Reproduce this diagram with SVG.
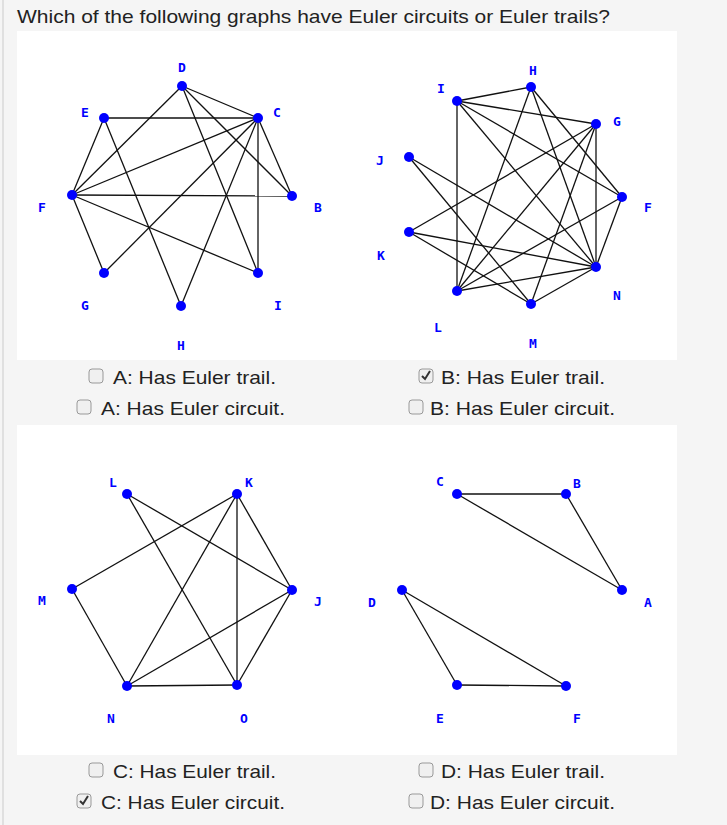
<svg xmlns="http://www.w3.org/2000/svg" width="727" height="825" viewBox="0 0 727 825">
<style>
.e line{stroke:#111;stroke-width:1.3}
.n circle{fill:#0000ff}
.l{font-family:"DejaVu Sans Mono",monospace;font-weight:bold;font-size:13px;fill:#0000ff;text-anchor:middle}
.t{font-family:"Liberation Sans",Arial,sans-serif;font-size:19px;fill:#222}
.cb{fill:#f0f0f0;stroke:#999;stroke-width:1}
.ck{fill:none;stroke:#333;stroke-width:2}
</style>
<rect width="727" height="825" fill="#f5f5f5"/>
<line x1="3" y1="0" x2="3" y2="825" stroke="#e0e0e0" stroke-width="2"/>
<rect x="17" y="31" width="660" height="329" fill="#fff"/>
<rect x="17" y="425" width="660" height="330" fill="#fff"/>
<text x="17" y="23" class="t" font-size="20.5" textLength="593" lengthAdjust="spacingAndGlyphs">Which of the following graphs have Euler circuits or Euler trails?</text>

<g id="connectors" class="e">
<line x1="182" y1="86" x2="258" y2="118"/><line x1="182" y1="86" x2="72" y2="195"/><line x1="182" y1="86" x2="292" y2="196"/><line x1="182" y1="86" x2="258" y2="273"/>
<line x1="104" y1="118" x2="258" y2="118"/><line x1="104" y1="118" x2="72" y2="195"/><line x1="104" y1="118" x2="181" y2="306"/>
<line x1="72" y1="195" x2="258" y2="118"/><line x1="72" y1="195" x2="292" y2="196"/><line x1="72" y1="195" x2="258" y2="273"/><line x1="72" y1="195" x2="104" y2="273"/>
<line x1="258" y1="118" x2="104" y2="273"/><line x1="258" y1="118" x2="181" y2="306"/><line x1="258" y1="118" x2="258" y2="273"/><line x1="258" y1="118" x2="292" y2="196"/>
<line x1="457" y1="101" x2="531" y2="87"/><line x1="457" y1="101" x2="596" y2="124"/><line x1="457" y1="101" x2="622" y2="197"/><line x1="457" y1="101" x2="596" y2="267"/><line x1="457" y1="101" x2="457" y2="291"/>
<line x1="531" y1="87" x2="457" y2="291"/><line x1="531" y1="87" x2="596" y2="267"/><line x1="531" y1="87" x2="622" y2="197"/>
<line x1="596" y1="124" x2="409" y2="232"/><line x1="596" y1="124" x2="457" y2="291"/><line x1="596" y1="124" x2="596" y2="267"/><line x1="596" y1="124" x2="531" y2="304"/>
<line x1="409" y1="157" x2="596" y2="267"/><line x1="409" y1="157" x2="531" y2="304"/>
<line x1="409" y1="232" x2="596" y2="267"/><line x1="409" y1="232" x2="531" y2="304"/>
<line x1="622" y1="197" x2="596" y2="267"/><line x1="622" y1="197" x2="457" y2="291"/>
<line x1="457" y1="291" x2="596" y2="267"/><line x1="531" y1="304" x2="596" y2="267"/>
<line x1="127" y1="494" x2="292" y2="590"/><line x1="127" y1="494" x2="237" y2="685"/>
<line x1="237" y1="494" x2="72" y2="589"/><line x1="237" y1="494" x2="127" y2="686"/><line x1="237" y1="494" x2="237" y2="685"/><line x1="237" y1="494" x2="292" y2="590"/>
<line x1="72" y1="589" x2="127" y2="686"/><line x1="127" y1="686" x2="237" y2="685"/><line x1="127" y1="686" x2="292" y2="590"/><line x1="292" y1="590" x2="237" y2="685"/>
<line x1="457" y1="494" x2="566" y2="494"/><line x1="457" y1="494" x2="622" y2="590"/><line x1="566" y1="494" x2="622" y2="590"/>
<line x1="402" y1="590" x2="457" y2="685"/><line x1="402" y1="590" x2="566" y2="686"/><line x1="457" y1="685" x2="566" y2="686"/>
</g>

<g id="graphA" class="n">
<g id="A-D"><circle cx="182" cy="86" r="5"/><text class="l" x="182" y="72">D</text></g>
<g id="A-C"><circle cx="258" cy="118" r="5"/><text class="l" x="277" y="117">C</text></g>
<g id="A-E"><circle cx="104" cy="118" r="5"/><text class="l" x="85" y="117">E</text></g>
<g id="A-F"><circle cx="72" cy="195" r="5"/><text class="l" x="42" y="212">F</text></g>
<g id="A-B"><circle cx="292" cy="196" r="5"/><text class="l" x="318" y="212">B</text></g>
<g id="A-G"><circle cx="104" cy="273" r="5"/><text class="l" x="85" y="310">G</text></g>
<g id="A-H"><circle cx="181" cy="306" r="5"/><text class="l" x="181" y="350">H</text></g>
<g id="A-I"><circle cx="258" cy="273" r="5"/><text class="l" x="278" y="310">I</text></g>
</g>
<g id="graphB" class="n">
<g id="B-H"><circle cx="531" cy="87" r="5"/><text class="l" x="533" y="75">H</text></g>
<g id="B-I"><circle cx="457" cy="101" r="5"/><text class="l" x="441" y="93">I</text></g>
<g id="B-G"><circle cx="596" cy="124" r="5"/><text class="l" x="617" y="126">G</text></g>
<g id="B-J"><circle cx="409" cy="157" r="5"/><text class="l" x="380" y="165">J</text></g>
<g id="B-F"><circle cx="622" cy="197" r="5"/><text class="l" x="648" y="212">F</text></g>
<g id="B-K"><circle cx="409" cy="232" r="5"/><text class="l" x="381" y="260">K</text></g>
<g id="B-N"><circle cx="596" cy="267" r="5"/><text class="l" x="617" y="300">N</text></g>
<g id="B-L"><circle cx="457" cy="291" r="5"/><text class="l" x="438" y="332">L</text></g>
<g id="B-M"><circle cx="531" cy="304" r="5"/><text class="l" x="533" y="348">M</text></g>
</g>
<g id="graphC" class="n">
<g id="C-L"><circle cx="127" cy="494" r="5"/><text class="l" x="113" y="487">L</text></g>
<g id="C-K"><circle cx="237" cy="494" r="5"/><text class="l" x="249" y="487">K</text></g>
<g id="C-M"><circle cx="72" cy="589" r="5"/><text class="l" x="42" y="605">M</text></g>
<g id="C-J"><circle cx="292" cy="590" r="5"/><text class="l" x="318" y="606">J</text></g>
<g id="C-N"><circle cx="127" cy="686" r="5"/><text class="l" x="111" y="723">N</text></g>
<g id="C-O"><circle cx="237" cy="685" r="5"/><text class="l" x="244" y="723">O</text></g>
</g>
<g id="graphD" class="n">
<g id="D-C"><circle cx="457" cy="494" r="5"/><text class="l" x="440" y="486">C</text></g>
<g id="D-B"><circle cx="566" cy="494" r="5"/><text class="l" x="577" y="488">B</text></g>
<g id="D-A"><circle cx="622" cy="590" r="5"/><text class="l" x="648" y="607">A</text></g>
<g id="D-D"><circle cx="402" cy="590" r="5"/><text class="l" x="372" y="607">D</text></g>
<g id="D-E"><circle cx="457" cy="685" r="5"/><text class="l" x="440" y="723">E</text></g>
<g id="D-F"><circle cx="566" cy="686" r="5"/><text class="l" x="577" y="723">F</text></g>
</g>

<g id="options">
<rect class="cb" x="89" y="369" width="14" height="14" rx="3"/><text class="t" x="113" y="384" textLength="163" lengthAdjust="spacingAndGlyphs">A: Has Euler trail.</text>
<rect class="cb" x="77" y="400" width="14" height="14" rx="3"/><text class="t" x="101" y="415" textLength="184" lengthAdjust="spacingAndGlyphs">A: Has Euler circuit.</text>
<rect class="cb" x="419" y="369" width="14" height="14" rx="3"/><path class="ck" d="M422,376 L425,379 L430,371"/><text class="t" x="441" y="384" textLength="164" lengthAdjust="spacingAndGlyphs">B: Has Euler trail.</text>
<rect class="cb" x="409" y="400" width="14" height="14" rx="3"/><text class="t" x="430" y="415" textLength="185" lengthAdjust="spacingAndGlyphs">B: Has Euler circuit.</text>
<rect class="cb" x="89" y="763" width="14" height="14" rx="3"/><text class="t" x="113" y="778" textLength="163" lengthAdjust="spacingAndGlyphs">C: Has Euler trail.</text>
<rect class="cb" x="77" y="794" width="14" height="14" rx="3"/><path class="ck" d="M80,801 L83,804 L88,796"/><text class="t" x="101" y="809" textLength="184" lengthAdjust="spacingAndGlyphs">C: Has Euler circuit.</text>
<rect class="cb" x="419" y="763" width="14" height="14" rx="3"/><text class="t" x="441" y="778" textLength="164" lengthAdjust="spacingAndGlyphs">D: Has Euler trail.</text>
<rect class="cb" x="409" y="794" width="14" height="14" rx="3"/><text class="t" x="430" y="809" textLength="185" lengthAdjust="spacingAndGlyphs">D: Has Euler circuit.</text>
</g>
</svg>
